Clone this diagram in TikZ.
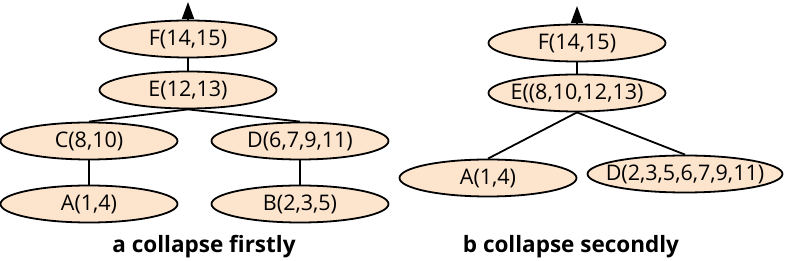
\documentclass[tikz,border=0pt]{standalone}
\usepackage{fontspec}
\setmainfont{Open Sans}
\usetikzlibrary{shapes.geometric,arrows.meta}
\definecolor{nodefill}{RGB}{252,228,205}
\begin{document}
\begin{tikzpicture}[x=1pt,y=-1pt,
  treenode/.style={ellipse, draw=black, fill=nodefill, line width=1.8pt,
    minimum width=177pt, minimum height=37pt, inner xsep=-25pt, inner ysep=0pt,
    font=\fontsize{21.5}{25}\selectfont},
  treeedge/.style={line width=1.8pt},
  rootarrow/.style={line width=1.8pt, -{Triangle[length=17pt,width=12pt]}},
  caption/.style={font=\fontsize{22.5}{26}\selectfont\bfseries}]
  \useasboundingbox (0,0) rectangle (785,261);
  % a: 先折叠一次
  \node[treenode] (F) at (188,39) {F(14,15)};
  \node[treenode] (E) at (188,90) {E(12,13)};
  \node[treenode] (C) at (89,141) {C(8,10)};
  \node[treenode] (D) at (300,141) {D(6,7,9,11)};
  \node[treenode] (A) at (89,204) {A(1,4)};
  \node[treenode] (B) at (300,204) {B(2,3,5)};
  \coordinate (Ftop) at (188,2);
  \draw[rootarrow] (F.north) -- (Ftop);
  \draw[treeedge] (F) -- (E);
  \draw[treeedge] (E.south) -- (C.north);
  \draw[treeedge] (E.south) -- (D.north);
  \draw[treeedge] (C) -- (A);
  \draw[treeedge] (D) -- (B);
  \node[caption] (capa) at (204,247) {a collapse firstly};

  % b: 再折叠一次
  \node[treenode] (Fb) at (577,43) {F(14,15)};
  \node[treenode] (Eb) at (577,93) {E((8,10,12,13)};
  \node[treenode] (Ab) at (488,178) {A(1,4)};
  \node[treenode, minimum width=195pt] (Db) at (685,174) {D(2,3,5,6,7,9,11)};
  \coordinate (Fbtop) at (577,6);
  \draw[rootarrow] (Fb.north) -- (Fbtop);
  \draw[treeedge] (Fb) -- (Eb);
  \draw[treeedge] (Eb.south) -- (Ab.north);
  \draw[treeedge] (Eb.south) -- (Db.north);
  \node[caption] (capb) at (571,247) {b collapse secondly};
\end{tikzpicture}
\end{document}
